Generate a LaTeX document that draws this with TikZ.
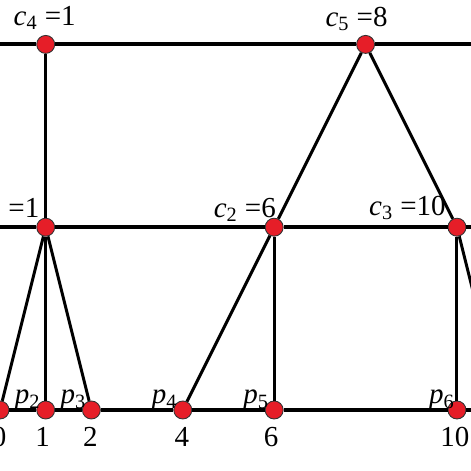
\documentclass[tikz,border=0pt]{standalone}
\usepackage{fontspec}
\setmainfont{Liberation Serif}
\definecolor{ptred}{RGB}{230,30,40}
\newcommand{\sym}[2]{\textit{#1}\textsubscript{#2}}

\begin{document}
\begin{tikzpicture}[x=0.914cm, y=0.914cm,
    pt/.style={circle, draw=black!80, line width=0.5pt, fill=ptred, minimum size=0.36cm, inner sep=0pt},
    lbl/.style={font=\fontsize{16.5}{18}\selectfont, inner sep=0pt},
    bus/.style={line width=2.2pt},
    link/.style={line width=1.7pt}]
    % Recorte de la figura
    \path[use as bounding box, clip] (0,-1.335) rectangle (10.306,8.972);
    % Nivel superior
    \node[pt] (c4) at (1,8) {};
    \node[pt] (c5) at (8,8) {};
    % Nivel medio
    \node[pt] (c1) at (1,4) {};
    \node[pt] (c2) at (6,4) {};
    \node[pt] (c3) at (10,4) {};
    % Nivel inferior
    \node[pt] (p1) at (0,0) {};
    \node[pt] (p2) at (1,0) {};
    \node[pt] (p3) at (2,0) {};
    \node[pt] (p4) at (4,0) {};
    \node[pt] (p5) at (6,0) {};
    \node[pt] (p6) at (10,0) {};
    \coordinate (p7) at (11,0);
    % Extremos de las lineas horizontales
    \coordinate (topL) at (-1,8);
    \coordinate (topR) at (12,8);
    \coordinate (midL) at (-1,4);
    \coordinate (midR) at (12,4);
    \coordinate (botL) at (-1,0);
    \coordinate (botR) at (12,0);
    % Etiquetas de los nodos c
    \node[lbl, anchor=base] (c4lab) at ([shift={(-0.02cm,0.38cm)}]c4.center) {\sym{c}{4} =1};
    \node[lbl, anchor=base] (c5lab) at ([shift={(-0.18cm,0.36cm)}]c5.center) {\sym{c}{5} =8};
    \node[lbl, anchor=base east] (c1lab) at ([shift={(-0.12cm,0.2cm)}]c1.center) {\sym{c}{1} =1};
    \node[lbl, anchor=base east] (c2lab) at ([shift={(0.04cm,0.2cm)}]c2.center) {\sym{c}{2} =6};
    \node[lbl, anchor=base east] (c3lab) at ([shift={(-0.22cm,0.24cm)}]c3.center) {\sym{c}{3} =10};
    % Etiquetas de los nodos p
    \node[lbl, anchor=base east] (p2lab) at ([shift={(-0.1cm,0.12cm)}]p2.center) {\sym{p}{2}};
    \node[lbl, anchor=base east] (p3lab) at ([shift={(-0.1cm,0.12cm)}]p3.center) {\sym{p}{3}};
    \node[lbl, anchor=base east] (p4lab) at ([shift={(-0.1cm,0.12cm)}]p4.center) {\sym{p}{4}};
    \node[lbl, anchor=base east] (p5lab) at ([shift={(-0.1cm,0.12cm)}]p5.center) {\sym{p}{5}};
    \node[lbl, anchor=base east] (p6lab) at ([shift={(-0.04cm,0.12cm)}]p6.center) {\sym{p}{6}};
    % Valores bajo el eje
    \node[lbl, anchor=base] (v1) at ([shift={(-0.02cm,-0.74cm)}]p1.center) {0};
    \node[lbl, anchor=base] (v2) at ([shift={(-0.06cm,-0.74cm)}]p2.center) {1};
    \node[lbl, anchor=base] (v3) at ([shift={(-0.02cm,-0.74cm)}]p3.center) {2};
    \node[lbl, anchor=base] (v4) at ([shift={(-0.02cm,-0.74cm)}]p4.center) {4};
    \node[lbl, anchor=base] (v5) at ([shift={(-0.06cm,-0.74cm)}]p5.center) {6};
    \node[lbl, anchor=base] (v6) at ([shift={(-0.04cm,-0.74cm)}]p6.center) {10};
    % Lineas horizontales
    \draw[bus] (topL) -- (c4) -- (c5) -- (topR);
    \draw[bus] (midL) -- (c1) -- (c2) -- (c3) -- (midR);
    \draw[bus] (botL) -- (p1) -- (p2) -- (p3) -- (p4) -- (p5) -- (p6) -- (botR);
    % Conexiones entre niveles
    \draw[link] (c4) -- (c1);
    \draw[link] (c5) -- (c2);
    \draw[link] (c5) -- (c3);
    \draw[link] (c1) -- (p1);
    \draw[link] (c1) -- (p2);
    \draw[link] (c1) -- (p3);
    \draw[link] (c2) -- (p4);
    \draw[link] (c2) -- (p5);
    \draw[link] (c3) -- (p6);
    \draw[link] (c3) -- (p7);
\end{tikzpicture}
\end{document}
